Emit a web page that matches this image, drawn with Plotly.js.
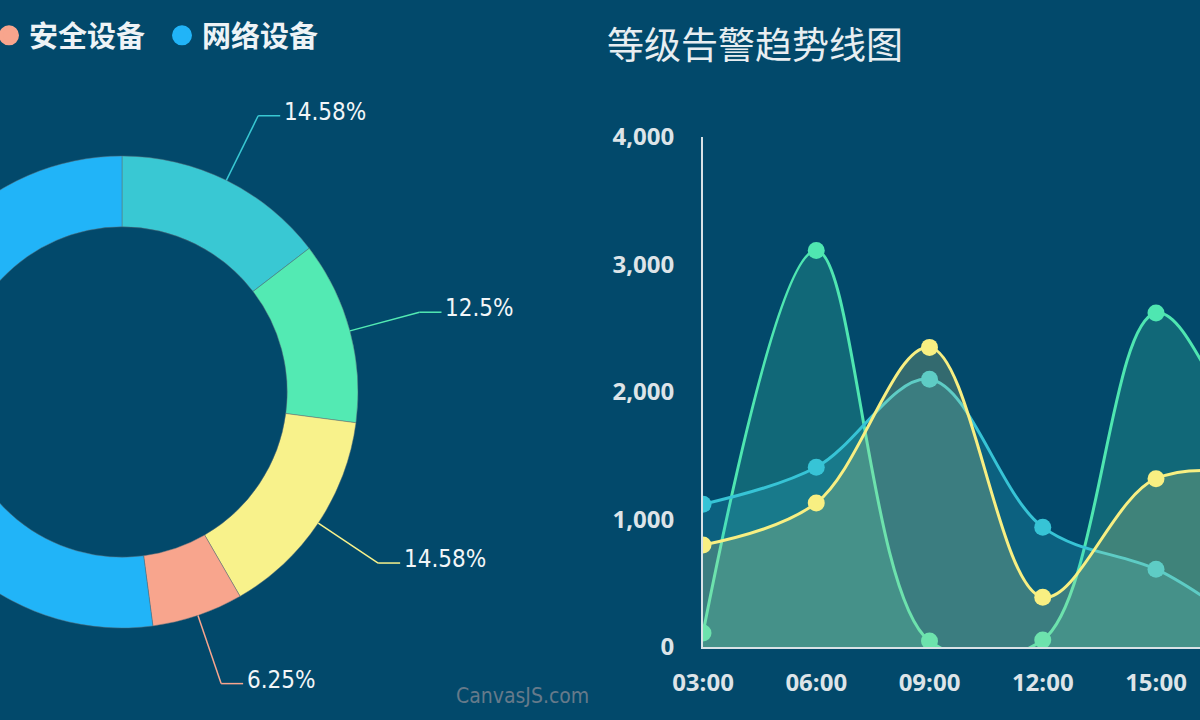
<!DOCTYPE html>
<html>
<head>
<meta charset="utf-8">
<script src="https://cdn.plot.ly/plotly-3.0.1.min.js"></script>
<style>
  html, body { margin: 0; padding: 0; width: 1200px; height: 720px; overflow: hidden; background: #02496b; }
  #board { position: absolute; left: -600px; top: 0; }
</style>
</head>
<body>
<div id="board"></div>
<script>
// donut: device share (%)
var deviceNames = ['服务器', '存储设备', '终端设备', '安全设备', '网络设备'];
var deviceShares = [14.58, 12.5, 14.58, 6.25, 52.09];
var deviceColors = ['#39c8d3', '#53eab3', '#f8f28b', '#f8a58d', '#21b4f8'];

// spline areas: alarms per level
var hours = ['03:00', '06:00', '09:00', '12:00', '15:00', '18:00', '21:00'];
var levelNames = ['紧急告警', '重要告警', '一般告警'];
var levelUrgent = [110, 3110, 47, 55, 2620, 1500, 1500];
var levelMajor = [1120, 1410, 2100, 940, 610, 150, 300];
var levelMinor = [800, 1130, 2350, 390, 1320, 1300, 800];
var levelColors = ['#4fe6b1', '#37c4d6', '#f8ef82'];
var levelFills = ['rgba(79,230,177,0.2)', 'rgba(55,196,214,0.2)', 'rgba(248,239,130,0.2)'];

// the board is wider than the window, shifted left
var OFF = 600, W = 2000, H = 720;
function px(v) { return (v + OFF) / W; }
function py(v) { return 1 - v / H; }

var pieCx = 122, pieCy = 392, pieR = 236;
var leadOut = 72, leadFlat = 22;

var labelFont = {family: 'DejaVu Sans Condensed, Liberation Sans Narrow, sans-serif', size: 24, color: '#f2f6f8'};
var tickFont = {family: 'Open Sans, sans-serif', size: 24, color: '#dde4e8', weight: 'bold'};

var traces = [];
var shapes = [];
var annotations = [];

traces.push({
  type: 'pie',
  values: deviceShares,
  labels: deviceNames,
  marker: {colors: deviceColors, line: {color: 'rgba(90,110,120,0.6)', width: 0.8}},
  hole: 0.7,
  sort: false,
  direction: 'clockwise',
  rotation: 0,
  textinfo: 'none',
  hoverinfo: 'skip',
  showlegend: false,
  domain: {x: [px(pieCx - pieR), px(pieCx + pieR)], y: [py(pieCy + pieR), py(pieCy - pieR)]}
});

// leader lines + percent labels, placed from the slice mid angles
var start = 0;
deviceShares.forEach(function(s, i) {
  var mid = (start + s / 2) / 100 * 2 * Math.PI;
  start += s;
  var sx = Math.sin(mid), cy = Math.cos(mid);
  var x0 = pieCx + pieR * sx, y0 = pieCy - pieR * cy;
  var x1 = pieCx + (pieR + leadOut) * sx, y1 = pieCy - (pieR + leadOut) * cy;
  var dir = sx >= 0 ? 1 : -1;
  var x2 = x1 + dir * leadFlat;
  var ln = {color: deviceColors[i], width: 1.5};
  shapes.push({type: 'line', xref: 'paper', yref: 'paper', x0: px(x0), y0: py(y0), x1: px(x1), y1: py(y1), line: ln});
  shapes.push({type: 'line', xref: 'paper', yref: 'paper', x0: px(x1), y0: py(y1), x1: px(x2), y1: py(y1), line: ln});
  annotations.push({
    xref: 'paper', yref: 'paper', x: px(x2 + dir * 2), y: py(y1 - 4),
    xanchor: dir > 0 ? 'left' : 'right', yanchor: 'middle',
    text: s + '%', showarrow: false, font: labelFont
  });
});

// legend-only entries (circle markers)
deviceNames.forEach(function(n, i) {
  traces.push({
    type: 'scatter', mode: 'markers', x: [null], y: [null], name: n,
    marker: {size: 16, color: deviceColors[i], line: {color: deviceColors[i], width: 4}},
    hoverinfo: 'skip'
  });
});

[levelUrgent, levelMajor, levelMinor].forEach(function(vals, i) {
  traces.push({
    type: 'scatter',
    x: hours,
    y: vals,
    name: levelNames[i],
    mode: 'lines+markers',
    line: {shape: 'spline', width: 3, color: levelColors[i]},
    marker: {size: 17, color: levelColors[i]},
    fill: 'tozeroy',
    fillcolor: levelFills[i],
    showlegend: false,
    hoverinfo: 'skip'
  });
});

annotations.push({
  xref: 'paper', yref: 'paper', x: px(522), y: py(696), xanchor: 'center', yanchor: 'middle',
  text: 'CanvasJS.com', showarrow: false,
  font: {family: 'DejaVu Sans Condensed, DejaVu Sans, sans-serif', size: 21, color: '#667a8a'}
});

var layout = {
  width: W,
  height: H,
  margin: {l: 0, r: 0, t: 0, b: 0, pad: 0},
  paper_bgcolor: '#02496b',
  plot_bgcolor: 'rgba(0,0,0,0)',
  title: {
    text: '等级告警趋势线图',
    font: {family: 'Noto Sans CJK SC, sans-serif', size: 37, color: '#e8eef1'},
    xref: 'paper', yref: 'paper', x: px(607), xanchor: 'left', y: py(46), yanchor: 'middle'
  },
  showlegend: true,
  legend: {
    orientation: 'h',
    x: px(-530), xanchor: 'left',
    y: py(10), yanchor: 'top',
    entrywidth: 128, entrywidthmode: 'pixels',
    bgcolor: 'rgba(0,0,0,0)',
    font: {family: 'Noto Sans CJK SC, sans-serif', size: 29, weight: 'bold', color: '#eef3f6'}
  },
  xaxis: {
    domain: [px(703), 1],
    type: 'category',
    range: [0, (1400 - 703) / 113.25],
    showline: true, linecolor: '#d9e1e6', linewidth: 2,
    showgrid: false, zeroline: false,
    ticks: 'outside', ticklen: 13, tickcolor: 'rgba(0,0,0,0)',
    tickfont: tickFont,
    fixedrange: true
  },
  yaxis: {
    domain: [py(647), py(137)],
    range: [0, 4000], dtick: 1000, tickformat: ',d',
    showline: true, linecolor: '#d9e1e6', linewidth: 2,
    showgrid: false, zeroline: false,
    ticks: 'outside', ticklen: 22, tickcolor: 'rgba(0,0,0,0)',
    tickfont: tickFont,
    fixedrange: true
  },
  shapes: shapes,
  annotations: annotations
};

Plotly.newPlot('board', traces, layout, {staticPlot: true, displayModeBar: false});
</script>
</body>
</html>
